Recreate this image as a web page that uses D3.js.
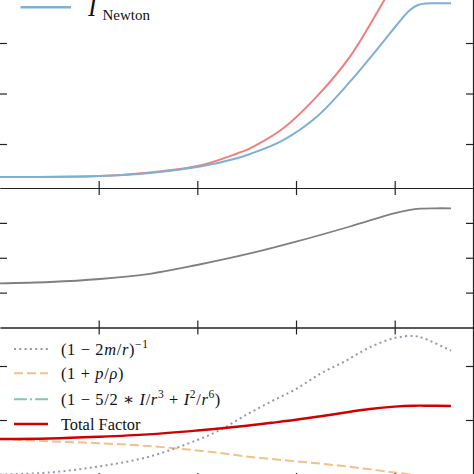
<!DOCTYPE html>
<html><head><meta charset="utf-8">
<script src="https://cdn.jsdelivr.net/npm/d3@7"></script>
<style>html,body{margin:0;padding:0;background:#fff;overflow:hidden}</style>
</head><body>
<svg id="chart" width="474" height="474"></svg>
<script>
// ---------- data ----------
const xTicks = [1, 2, 3, 4];

// top panel
const topTicks = [1, 2, 3];
const rNewton = [0, 1.013, 1.520, 2.027, 2.402, 2.534, 2.871, 3.210, 3.547, 3.885, 4.054, 4.155, 4.236, 4.317, 4.409, 4.571];
const iNewton = [0.347, 0.366, 0.426, 0.554, 0.717, 0.802, 1.079, 1.541, 2.234, 3.026, 3.436, 3.653, 3.752, 3.782, 3.786, 3.786];
const rOther = [0, 1.013, 1.520, 2.027, 2.402, 2.534, 2.871, 3.210, 3.547, 3.885, 4.054];
const iOther = [0.347, 0.366, 0.436, 0.574, 0.812, 0.915, 1.311, 1.937, 2.729, 3.818, 4.386];

// middle panel
const midTicks = [1, 2, 3];
const rRatio = [0, 0.507, 1.013, 1.520, 1.997, 2.534, 3.0, 3.547, 3.993, 4.155, 4.257, 4.409, 4.571];
const ratio = [1.267, 1.305, 1.391, 1.540, 1.792, 2.122, 2.460, 2.896, 3.275, 3.375, 3.409, 3.418, 3.418];

// bottom panel
const botTicks = [1.2, 1.4];
const rGrid = [0, 0.5, 1, 1.5, 2, 2.25, 2.5, 2.75, 3, 3.25, 3.5, 3.75, 4, 4.2, 4.3, 4.57];
const metricFactor = [0.998, 1.0056, 1.0278, 1.063, 1.126, 1.1667, 1.22, 1.2689, 1.3148, 1.3722, 1.4185, 1.4696, 1.5037, 1.5111, 1.5019, 1.4567];
const pressureFactor = [1.1296, 1.1211, 1.1141, 1.1037, 1.087, 1.077, 1.0648, 1.0556, 1.047, 1.0385, 1.0285, 1.0174, 1.0056, 0.9963, 0.9926, 0.9907];
const inertiaFactor = [0.99, 0.99, 0.985, 0.975, 0.96, 0.95, 0.935, 0.92, 0.905, 0.89, 0.875, 0.865, 0.86, 0.86, 0.86, 0.86];
const totalFactor = [1.1296, 1.1315, 1.1378, 1.1467, 1.1611, 1.1696, 1.1789, 1.1896, 1.2007, 1.2137, 1.2278, 1.2407, 1.2496, 1.2530, 1.2530, 1.2519];

const legendLabels = [
  [["(1 − 2",""],["m","i"],["/",""],["r","i"],[")",""],["−1","sup"]],
  [["(1 + ",""],["p","i"],["/",""],["ρ","i"],[")",""]],
  [["(1 − 5/2 ∗ ",""],["I","i"],["/",""],["r","i"],["3","sup"],[" + ",""],["I","i"],["2","sup"],["/",""],["r","i"],["6","sup"],[")",""]],
  [["Total Factor",""]]
];

// ---------- drawing ----------
const svg = d3.select("#chart");
const xR = 473;
const x = d3.scaleLinear().domain([0, xR / 98.67]).range([0, xR]);

const panels = [
  {top: -20, bottom: 188, y: d3.scaleLinear().domain([(194.5 - 188) / 50.5, (194.5 + 20) / 50.5]).range([188, -20]), ticks: topTicks},
  {top: 188, bottom: 327.5, y: d3.scaleLinear().domain([0, 4]).range([327.5, 188]), ticks: midTicks},
  {top: 327.5, bottom: 480, y: d3.scaleLinear().domain([1 + (474 - 480) / 270, 1 + (474 - 327.5) / 270]).range([480, 327.5]), ticks: botTicks}
];

const defs = svg.append("defs");
panels.forEach((p, i) => {
  defs.append("clipPath").attr("id", "clip" + i)
    .append("rect").attr("x", 0).attr("y", p.top).attr("width", xR).attr("height", p.bottom - p.top);
});

function drawLine(pi, xs, ys, color, width, dash) {
  const p = panels[pi];
  const line = d3.line().x((d, i) => x(xs[i])).y(d => p.y(d)).curve(d3.curveCatmullRom.alpha(0.5));
  svg.append("path").datum(ys)
    .attr("clip-path", `url(#clip${pi})`)
    .attr("d", line).attr("fill", "none")
    .attr("stroke", color).attr("stroke-width", width)
    .attr("stroke-dasharray", dash || null)
    .attr("stroke-linejoin", "round");
}

// top
drawLine(0, rOther, iOther, "#f07e7e", 2);
drawLine(0, rNewton, iNewton, "#7eb0d6", 2);
// middle
drawLine(1, rRatio, ratio, "#808080", 1.8);
// bottom
drawLine(2, rGrid, inertiaFactor, "#7fc8b2", 2, "12.8,3.2,2,3.2");
drawLine(2, rGrid, pressureFactor, "#f5c088", 2, "9,4");
drawLine(2, rGrid, metricFactor, "#9696b4", 2, "2,3.3");
drawLine(2, rGrid, totalFactor, "#d00000", 2.4);

// axes
const axisColor = "#222";
function styleAxis(g, showDomain) {
  g.selectAll("text").remove();
  g.selectAll("line").attr("stroke", axisColor).attr("stroke-width", 1.2);
  g.select(".domain").attr("stroke", showDomain ? axisColor : "none").attr("stroke-width", 1.2);
}
panels.forEach((p, i) => {
  svg.append("g").attr("transform", `translate(0,${p.bottom})`)
    .call(d3.axisBottom(x).tickValues(xTicks).tickSizeInner(-7).tickSizeOuter(0).tickFormat(""))
    .call(g => styleAxis(g, true));
  svg.append("g").attr("transform", `translate(0,${p.top})`)
    .call(d3.axisTop(x).tickValues(xTicks).tickSizeInner(-7).tickSizeOuter(0).tickFormat(""))
    .call(g => styleAxis(g, true));
  svg.append("g").attr("transform", `translate(-1,0)`)
    .call(d3.axisLeft(p.y).tickValues(p.ticks).tickSizeInner(-8).tickSizeOuter(0).tickFormat(""))
    .call(g => styleAxis(g, false));
  svg.append("g").attr("transform", `translate(${xR},0)`)
    .call(d3.axisRight(p.y).tickValues(p.ticks).tickSizeInner(-7).tickSizeOuter(0).tickFormat(""))
    .call(g => styleAxis(g, true));
});

// top legend
const serif = "'Liberation Serif', 'DejaVu Serif', serif";
svg.append("line").attr("x1", 20.5).attr("x2", 71).attr("y1", 7.3).attr("y2", 7.3)
  .attr("stroke", "#7eb0d6").attr("stroke-width", 2.4);
const tl = svg.append("text").attr("x", 88).attr("y", 15.5).attr("font-family", serif).attr("fill", "#111");
tl.append("tspan").attr("font-style", "italic").attr("font-size", 25).text("I");
tl.append("tspan").attr("x", 102.5).attr("y", 20).attr("font-size", 15).text("Newton");

// bottom legend
const legY = [349, 373.3, 399.3, 424];
const legStyles = [
  {c: "#9696b4", w: 2, d: "2,3.3"},
  {c: "#f5c088", w: 2, d: "9,4"},
  {c: "#7fc8b2", w: 2, d: "12.8,3.2,2,3.2"},
  {c: "#d00000", w: 2.4, d: null}
];
legendLabels.forEach((segs, i) => {
  const s = legStyles[i];
  svg.append("line").attr("x1", 14).attr("x2", 48).attr("y1", legY[i]).attr("y2", legY[i])
    .attr("stroke", s.c).attr("stroke-width", s.w).attr("stroke-dasharray", s.d);
  const t = svg.append("text").attr("x", 61).attr("y", legY[i] + 5.5)
    .attr("font-family", serif).attr("font-size", 16.4).attr("fill", "#111")
    .attr("letter-spacing", i < 3 ? 0.65 : 0);
  let raised = false;
  segs.forEach(([txt, kind]) => {
    const ts = t.append("tspan").text(txt);
    if (kind === "i") ts.attr("font-style", "italic");
    if (kind === "sup") { ts.attr("font-size", 11.5).attr("dy", -7); raised = true; }
    else if (raised) { ts.attr("dy", 7); raised = false; }
  });
});
</script>
</body></html>
